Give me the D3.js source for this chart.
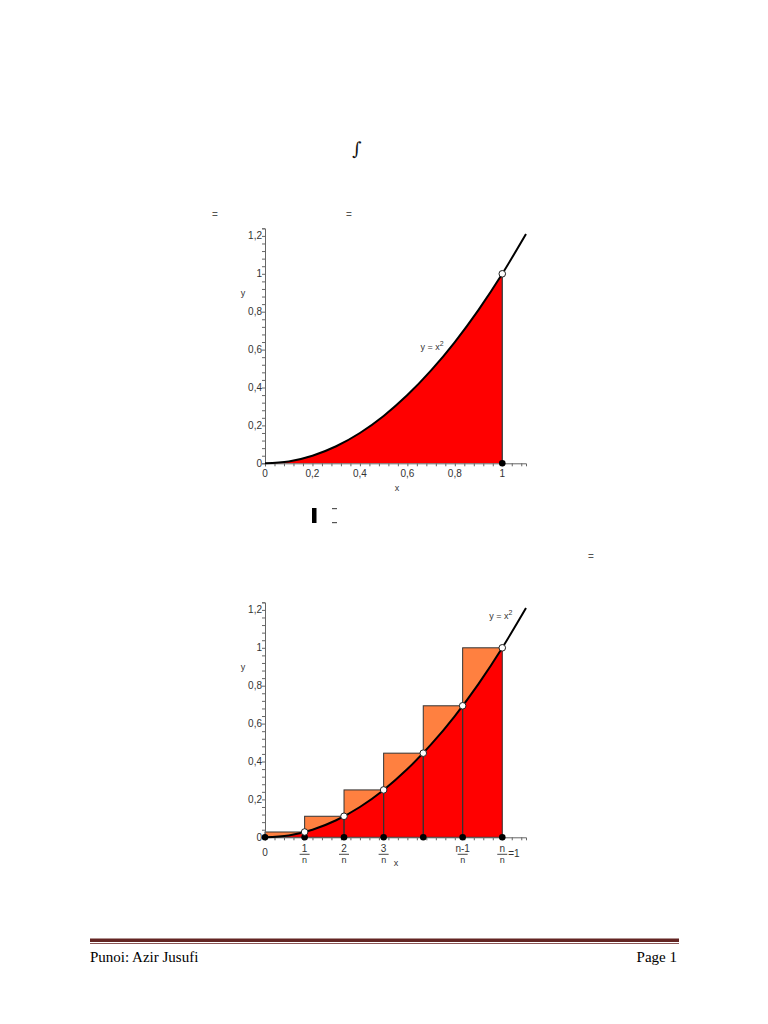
<!DOCTYPE html>
<html>
<head>
<meta charset="utf-8">
<script src="https://cdn.jsdelivr.net/npm/d3@7"></script>
<style>
html,body{margin:0;padding:0;background:#fff;}
svg{display:block;}
</style>
</head>
<body>
<svg id="page" width="768" height="1024"></svg>
<script>
// ---- data ----
const curveX = [0, 0.1, 0.2, 0.3, 0.4, 0.5, 0.6, 0.7, 0.8, 0.9, 1.0, 1.1];
const curveY = [0, 0.01, 0.04, 0.09, 0.16, 0.25, 0.36, 0.49, 0.64, 0.81, 1.0, 1.21];
const xTickValues = [0, 0.2, 0.4, 0.6, 0.8, 1];
const xTickLabels = ["0", "0,2", "0,4", "0,6", "0,8", "1"];
const yTickValues = [0, 0.2, 0.4, 0.6, 0.8, 1, 1.2];
const yTickLabels = ["0", "0,2", "0,4", "0,6", "0,8", "1", "1,2"];
const partX = [0, 0.167, 0.333, 0.5, 0.667, 0.833, 1];
const rectHeights = [0.028, 0.111, 0.25, 0.444, 0.694, 1.0];
const fracNum = ["1", "2", "3", "", "n-1", "n"];
const fracDen = ["n", "n", "n", "", "n", "n"];
const curveLabel = "y = x";

const svg = d3.select("#page");
const pts = curveX.map((x, i) => [x, curveY[i]]);
const SANS = "Liberation Sans, Arial, sans-serif";

function drawChart(cfg) {
  const x = d3.scaleLinear().domain([0, 1.1]).range([265, 526]);
  const y = d3.scaleLinear().domain([0, 1.24]).range([cfg.y0, cfg.y0 - 1.24 * 189.5]);
  const g = svg.append("g");

  if (cfg.rects) {
    g.selectAll("rect.up").data(rectHeights).join("rect")
      .attr("x", (d, i) => x(partX[i]))
      .attr("width", (d, i) => x(partX[i + 1]) - x(partX[i]))
      .attr("y", d => y(d))
      .attr("height", d => y(0) - y(d))
      .attr("fill", "#ff8040");
  }

  const under = pts.filter(p => p[0] <= 1.0001);
  g.append("path").datum(under)
    .attr("d", d3.area().x(d => x(d[0])).y0(y(0)).y1(d => y(d[1])).curve(d3.curveNatural))
    .attr("fill", "#ff0000");

  if (cfg.rects) {
    g.selectAll("rect.outline").data(rectHeights).join("rect")
      .attr("x", (d, i) => x(partX[i]))
      .attr("width", (d, i) => x(partX[i + 1]) - x(partX[i]))
      .attr("y", d => y(d))
      .attr("height", d => y(0) - y(d))
      .attr("fill", "none")
      .attr("stroke", "#333")
      .attr("stroke-width", 1);
  } else {
    g.append("line").attr("x1", x(1)).attr("x2", x(1)).attr("y1", y(0)).attr("y2", y(1))
      .attr("stroke", "#2b3b3b").attr("stroke-width", 1.2);
  }

  const xAxis = d3.axisBottom(x).tickValues(d3.range(0, 1.101, 0.04)).tickSize(3).tickFormat("");
  const gx = g.append("g").attr("transform", `translate(0,${y(0)})`).call(xAxis);
  gx.select(".domain").attr("stroke", "#666");
  gx.selectAll(".tick line").attr("stroke", "#666");

  const yAxis = d3.axisLeft(y).tickValues(d3.range(0, 1.241, 0.04)).tickSize(3).tickFormat("");
  const gy = g.append("g").attr("transform", `translate(${x(0)},0)`).call(yAxis);
  gy.select(".domain").attr("stroke", "#666");
  gy.selectAll(".tick line").attr("stroke", "#666");

  g.selectAll("text.yl").data(yTickValues).join("text")
    .attr("x", x(0) - 3).attr("y", d => y(d) + 3.5)
    .attr("text-anchor", "end")
    .attr("font-family", SANS).attr("font-size", 10).attr("fill", "#333")
    .text((d, i) => yTickLabels[i]);

  if (!cfg.rects) {
    g.selectAll("text.xl").data(xTickValues).join("text")
      .attr("x", d => x(d)).attr("y", y(0) + 14)
      .attr("text-anchor", "middle")
      .attr("font-family", SANS).attr("font-size", 10).attr("fill", "#333")
      .text((d, i) => xTickLabels[i]);
  } else {
    g.append("text").attr("x", x(0)).attr("y", y(0) + 19)
      .attr("text-anchor", "middle")
      .attr("font-family", SANS).attr("font-size", 10).attr("fill", "#333").text("0");
    const fr = g.selectAll("g.fr").data(fracNum).join("g")
      .attr("transform", (d, i) => `translate(${x(partX[i + 1])},${y(0)})`);
    fr.append("text").attr("y", 15).attr("text-anchor", "middle")
      .attr("font-family", SANS).attr("font-size", 10).attr("fill", "#333").text(d => d);
    fr.append("line").attr("x1", -5).attr("x2", 5).attr("y1", 17).attr("y2", 17)
      .attr("stroke", d => d ? "#333" : "none").attr("stroke-width", 0.9);
    fr.append("text").attr("y", 25.5).attr("text-anchor", "middle")
      .attr("font-family", SANS).attr("font-size", 9).attr("fill", "#333").text((d, i) => fracDen[i]);
    g.append("text").attr("x", x(1) + 6).attr("y", y(0) + 20)
      .attr("font-family", SANS).attr("font-size", 10).attr("fill", "#333").text("=1");
  }

  g.append("text").attr("x", 243).attr("y", y(0.9) + 3)
    .attr("text-anchor", "middle")
    .attr("font-family", SANS).attr("font-size", 9).attr("fill", "#333").text("y");
  g.append("text").attr("x", cfg.xLabelX).attr("y", cfg.xLabelY)
    .attr("text-anchor", "middle")
    .attr("font-family", SANS).attr("font-size", 9).attr("fill", "#333").text("x");

  g.append("path").datum(pts)
    .attr("d", d3.line().x(d => x(d[0])).y(d => y(d[1])).curve(d3.curveNatural))
    .attr("fill", "none").attr("stroke", "#000").attr("stroke-width", 2);

  const lt = g.append("text").attr("x", x(cfg.labelAt[0])).attr("y", y(cfg.labelAt[1]))
    .attr("font-family", SANS).attr("font-size", 9).attr("fill", "#333");
  lt.append("tspan").text(curveLabel);
  lt.append("tspan").attr("dy", -4).attr("font-size", 7).text("2");

  const openX = cfg.rects ? partX.slice(1) : [1];
  const filledX = cfg.rects ? partX : [1];
  g.selectAll("circle.f").data(filledX).join("circle")
    .attr("cx", d => x(d)).attr("cy", y(0)).attr("r", 3.3).attr("fill", "#000");
  g.selectAll("circle.o").data(openX).join("circle")
    .attr("cx", d => x(d)).attr("cy", (d, i) => y(cfg.rects ? rectHeights[i] : 1))
    .attr("r", 3.3).attr("fill", "#fff").attr("stroke", "#222").attr("stroke-width", 1);
}

drawChart({ y0: 463.3, rects: false, xLabelX: 397, xLabelY: 491, labelAt: [0.655, 0.6] });
drawChart({ y0: 837.3, rects: true, xLabelX: 396, xLabelY: 866, labelAt: [0.945, 1.15] });

const txt = (x, y, s, size, fam, col) => svg.append("text").attr("x", x).attr("y", y)
  .attr("font-family", fam || "DejaVu Serif, serif").attr("font-size", size).attr("fill", col || "#000").text(s);
txt(352, 155, "∫", 18, "DejaVu Serif, serif", "#111");
txt(212, 218, "=", 10, SANS, "#555");
txt(346, 218, "=", 10, SANS, "#555");
txt(588, 560, "=", 10, SANS, "#555");
svg.append("rect").attr("x", 312).attr("y", 508).attr("width", 4.5).attr("height", 15).attr("fill", "#000");
svg.append("rect").attr("x", 332).attr("y", 508).attr("width", 5).attr("height", 1.2).attr("fill", "#555");
svg.append("rect").attr("x", 332).attr("y", 522).attr("width", 5).attr("height", 1.2).attr("fill", "#555");

svg.append("rect").attr("x", 90).attr("y", 938.5).attr("width", 589).attr("height", 3.5).attr("fill", "#632523");
svg.append("rect").attr("x", 90).attr("y", 943).attr("width", 589).attr("height", 1).attr("fill", "#8a5555");
txt(90, 962, "Punoi: Azir Jusufi", 15, "Liberation Serif, serif", "#000");
svg.append("text").attr("x", 677).attr("y", 962).attr("text-anchor", "end")
  .attr("font-family", "Liberation Serif, serif").attr("font-size", 15).text("Page 1");
</script>
</body>
</html>
